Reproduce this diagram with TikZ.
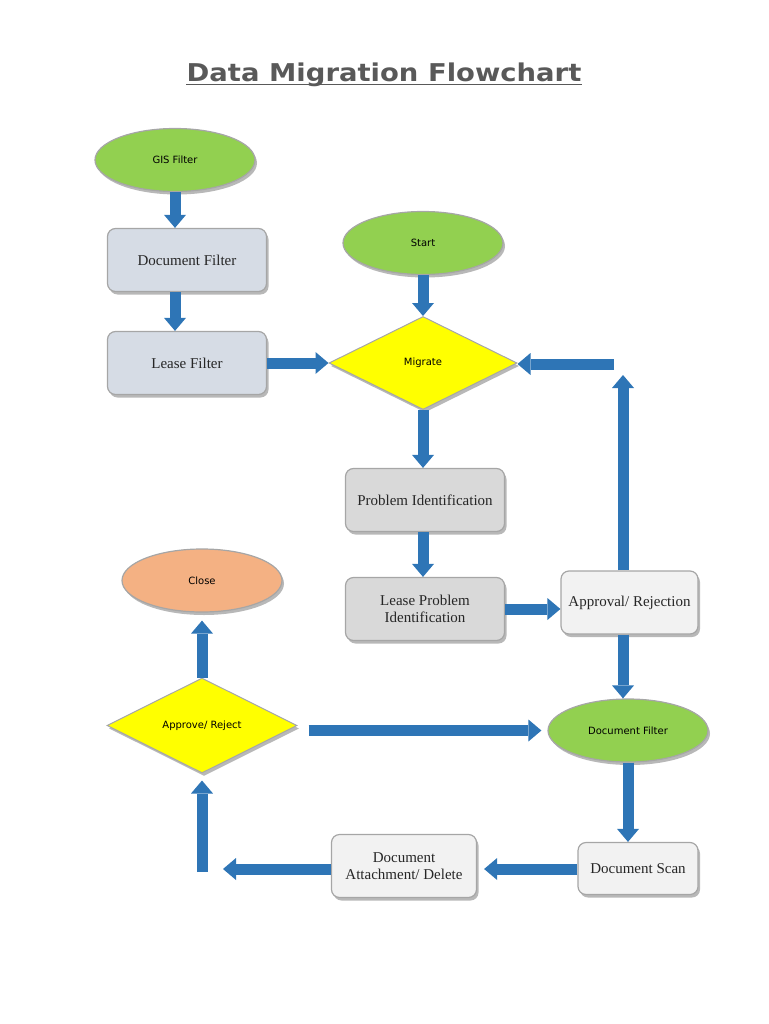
\documentclass[tikz,border=0pt]{standalone}
\usepackage{fontspec}
\setmainfont{Liberation Serif}
\newfontfamily\labelfont{DejaVu Sans}
\newfontfamily\titlefont{DejaVu Sans}[FakeStretch=1.12]
\usetikzlibrary{shapes.geometric,arrows.meta,shadows}
\definecolor{flowblue}{HTML}{2E75B6}
\definecolor{bordergray}{HTML}{A6A6A6}
\definecolor{titlegray}{HTML}{595959}
\definecolor{ovalgreen}{HTML}{92D050}
\definecolor{decyellow}{HTML}{FFFF00}
\definecolor{ovalorange}{HTML}{F4B183}
\definecolor{boxblue}{HTML}{D6DCE5}
\definecolor{boxgray}{HTML}{D9D9D9}
\definecolor{boxlight}{HTML}{F2F2F2}
\definecolor{textdark}{HTML}{262626}
\tikzset{
  shade/.style={drop shadow={shadow xshift=2pt,shadow yshift=-3pt,fill=black,opacity=0.28}},
  procbox/.style={rectangle, rounded corners=8pt, draw=bordergray, line width=1.2pt,
    shade, inner sep=2pt, align=center, text=textdark,
    font=\fontsize{15}{17}\selectfont},
  oval/.style={ellipse, draw=bordergray, line width=1.2pt, shade, fill=ovalgreen,
    minimum width=160pt, minimum height=63pt, inner sep=0pt,
    font=\labelfont\fontsize{10}{12}\selectfont},
  decision/.style={diamond, draw=bordergray, line width=1pt, shade, fill=decyellow,
    inner sep=0pt, font=\labelfont\fontsize{10}{12}\selectfont},
  flow/.style={draw=flowblue, line width=11pt,
    -{Triangle[width=22pt,length=13pt,line width=0pt]}},
}
\begin{document}
\begin{tikzpicture}[x=1pt,y=-1pt]
\useasboundingbox (0,0) rectangle (768,1024);
% title
\node[inner sep=0pt, anchor=base, text=titlegray,
  font=\titlefont\bfseries\fontsize{24.5}{28}\selectfont] (title) at (384,82) {Data Migration Flowchart};
\draw[titlegray, line width=1.8pt] ([yshift=-2.6pt]title.base west) -- ([yshift=-2.6pt]title.base east);

% nodes
\node[oval] (gis) at (175,160) {GIS Filter};
\node[procbox, fill=boxblue, minimum width=159pt, minimum height=63pt] (df1) at (187,260) {Document Filter};
\node[procbox, fill=boxblue, minimum width=159pt, minimum height=63pt] (lf) at (187,363) {Lease Filter};
\node[oval] (start) at (423,243) {Start};
\node[decision, minimum width=188pt, minimum height=93pt] (mig) at (423,363) {Migrate};
\node[procbox, fill=boxgray, minimum width=159pt, minimum height=63pt] (pi) at (425,500) {Problem Identification};
\node[procbox, fill=boxgray, minimum width=159pt, minimum height=63pt] (lpi) at (425,609) {Lease Problem\\Identification};
\node[procbox, fill=boxlight, minimum width=137pt, minimum height=63pt] (ar) at (629.5,602.5) {Approval/ Rejection};
\node[oval, fill=ovalorange] (close) at (202,580.5) {Close};
\node[decision, minimum width=190pt, minimum height=95pt] (apr) at (202,725.5) {Approve/ Reject};
\node[oval] (df2) at (628,730.5) {Document Filter};
\node[procbox, fill=boxlight, minimum width=120pt, minimum height=52pt] (ds) at (638,868.5) {Document Scan};
\node[procbox, fill=boxlight, minimum width=145pt, minimum height=63pt] (da) at (404,866) {Document\\Attachment/ Delete};

% free ends
\coordinate (loopR) at (614,364);
\coordinate (loopT) at (623,375);
\coordinate (botL) at (223,869);
\coordinate (botU) at (202,872);

% connectors
\draw[flow] (gis.south) -- (gis.south |- df1.north);
\draw[flow] (df1.south -| gis.south) -- (lf.north -| gis.south);
\draw[flow] (lf.east) -- (mig.west);
\draw[flow] (start.south) -- (mig.north);
\draw[flow] (loopR) -- (loopR -| mig.east);
\draw[flow] (ar.north -| loopT) -- (loopT);
\draw[flow] (mig.south) -- (mig.south |- pi.north);
\draw[flow] (pi.south -| mig.south) -- (lpi.north -| mig.south);
\draw[flow] (lpi.east) -- (lpi.east -| ar.west);
\draw[flow] (ar.south -| loopT) -- (df2.north -| loopT);
\draw[flow, shorten >=8pt] (apr.north) -- (close.south);
\draw[flow, shorten <=11pt, shorten >=6pt] (apr.east |- df2.west) -- (df2.west);
\draw[flow] (df2.south) -- (df2.south |- ds.north);
\draw[flow, shorten >=7pt] (ds.west |- botL) -- (da.east |- botL);
\draw[flow] (da.west |- botL) -- (botL);
\draw[flow, shorten >=7pt] (botU) -- (apr.south);
\end{tikzpicture}
\end{document}
